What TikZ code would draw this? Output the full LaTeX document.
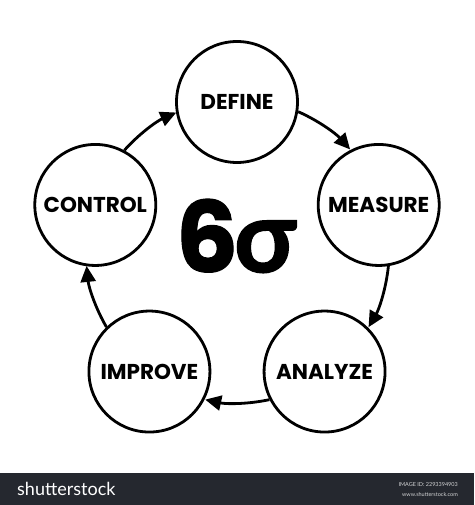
\documentclass[tikz,border=0pt]{standalone}
\usepackage{fontspec}
\setmainfont{Poppins}
\newfontfamily\bigsix{Poppins}[BoldFeatures={FakeBold=1.2}]
\newfontfamily\grk{Lato}[BoldFeatures={FakeBold=1.6}]
\newfontfamily\logo{Lato}
\usetikzlibrary{arrows.meta,calc}
\definecolor{banner}{HTML}{25282F}
\begin{document}
\begin{tikzpicture}[x=1pt,y=1pt,
  stage/.style={circle,draw=black,line width=2.8pt,minimum size=121pt,inner sep=0pt,
    font=\fontsize{21.5}{21.5}\selectfont\bfseries},
  flow/.style={line width=2.8pt,-{Triangle[length=16pt,width=15pt]}}]
\useasboundingbox (0,0) rectangle (474,505);
\fill[white] (0,0) rectangle (474,505);
\coordinate (c) at (237,254);
\node[stage] (define)  at ($(c)+(90:149)$)  {DEFINE};
\node[stage] (measure) at ($(c)+(18:149)$)  {MEASURE};
\node[stage] (analyze) at ($(c)+(-54:149)$) {ANALYZE};
\node[stage] (improve) at ($(c)+(-126:149)$){IMPROVE};
\node[stage] (control) at ($(c)+(162:149)$) {CONTROL};
\draw[flow] (define.-9.2)   arc[start angle=66.2,  end angle=41.8,   radius=152];
\draw[flow] (measure.-81.2) arc[start angle=-5.8,  end angle=-30.2,  radius=152];
\draw[flow] (analyze.-153.2) arc[start angle=-77.8, end angle=-102.2, radius=152];
\draw[flow] (improve.134.8) arc[start angle=-149.8, end angle=-174.2, radius=152];
\draw[flow] (control.62.8)  arc[start angle=138.2, end angle=113.8,  radius=152];
\node[anchor=base,inner sep=0pt,font=\bigsix\fontsize{98}{98}\selectfont\bfseries] (six) at (207,233) {6};
\node[anchor=base,inner sep=0pt,font=\grk\fontsize{100}{100}\selectfont\bfseries] (sigma) at (265,233) {σ};
\fill[banner] (0,0) rectangle (474,32);
\node[anchor=west,inner sep=0pt,text=white,font=\logo\fontsize{18}{18}\selectfont] (brand) at (17,16) {shutterstock};
\node[anchor=east,inner sep=0pt,text=white!80!banner,font=\logo\fontsize{5.5}{6}\selectfont] (imgid) at (458,20) {IMAGE ID: 2293394903};
\node[anchor=east,inner sep=0pt,text=white!80!banner,font=\logo\fontsize{5.5}{6}\selectfont] (site) at (458,11) {www.shutterstock.com};
\end{tikzpicture}
\end{document}
